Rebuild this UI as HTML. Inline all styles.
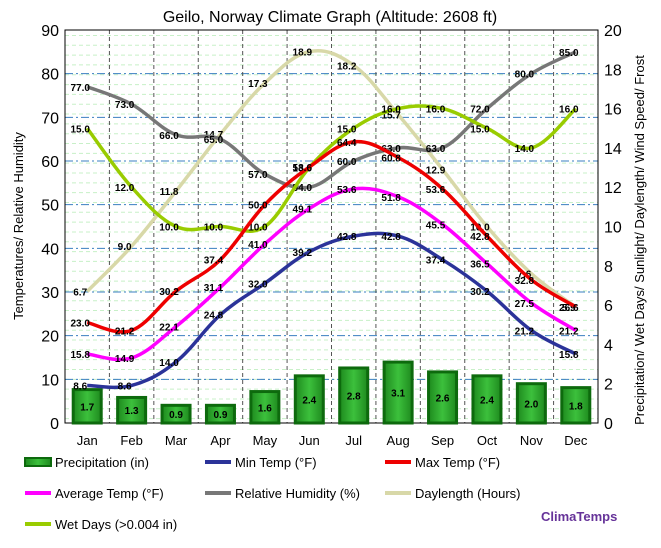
<!DOCTYPE html>
<html><head><meta charset="utf-8"><style>
body{margin:0;background:#fff;font-family:"Liberation Sans",Arial,sans-serif}
svg text{font-family:"Liberation Sans",Arial,sans-serif}
</style></head><body>
<svg id="c" width="661" height="543" xmlns="http://www.w3.org/2000/svg">
<defs><linearGradient id="bg" x1="0" x2="1" y1="0" y2="0"><stop offset="0" stop-color="#1e8a1e"/><stop offset="0.5" stop-color="#3cc03c"/><stop offset="1" stop-color="#1e8a1e"/></linearGradient></defs>
<rect width="661" height="543" fill="#fff"/>
<text x="330" y="22" text-anchor="middle" font-size="16">Geilo, Norway Climate Graph (Altitude: 2608 ft)</text>
<g id="grid"></g><g id="axes"></g><g id="marks"></g><g id="legend"></g>
<text x="541" y="521" font-size="13" font-weight="bold" fill="#663399">ClimaTemps</text>
</svg>
<script>
const months=["Jan","Feb","Mar","Apr","May","Jun","Jul","Aug","Sep","Oct","Nov","Dec"];
const precip=[1.7,1.3,0.9,0.9,1.6,2.4,2.8,3.1,2.6,2.4,2.0,1.8];
const minTemp=[8.6,8.6,14.0,24.8,32.0,39.2,42.8,42.8,37.4,30.2,21.2,15.8];
const maxTemp=[23.0,21.2,30.2,37.4,50.0,58.6,64.4,60.8,53.6,42.8,32.8,26.6];
const avgTemp=[15.8,14.9,22.1,31.1,41.0,49.1,53.6,51.8,45.5,36.5,27.5,21.2];
const humidity=[77,73,66,65,57,54,60,63,63,72,80,85];
const daylight=[6.7,9.0,11.8,14.7,17.3,18.9,18.2,15.7,12.9,10.0,7.6,5.9];
const wetDays=[15,12,10,10,10,13.0,15,16,16,15,14,16];
const leftTicks=[0,10,20,30,40,50,60,70,80,90];
const rightTicks=[0,2,4,6,8,10,12,14,16,18,20];
const NS="http://www.w3.org/2000/svg";
const X0=65,X1=598,Y0=423,Y1=30,bw=(X1-X0)/12;
const xc=i=>X0+bw*(i+0.5);
const yl=v=>Y0-(v/90)*(Y0-Y1);
const yr=v=>Y0-(v/20)*(Y0-Y1);
function mk(p,t,a){const e=document.createElementNS(NS,t);for(const k in a)e.setAttribute(k,a[k]);p.appendChild(e);return e;}
const grid=document.getElementById('grid'),axes=document.getElementById('axes'),marks=document.getElementById('marks'),leg=document.getElementById('legend');
for(let v=1;v<90;v+=2.25){mk(grid,'line',{x1:X0,x2:X1,y1:yl(v),y2:yl(v),stroke:'#c8f0c8','stroke-dasharray':'4,3'});}
leftTicks.forEach(v=>{if(v>0&&v<90){const l=mk(grid,'line',{x1:X0,x2:X1,y1:yl(v),y2:yl(v),stroke:'#3a7fc0','stroke-dasharray':'8,3,2,3'});}});
for(let i=1;i<12;i++){mk(grid,'line',{x1:X0+bw*i,x2:X0+bw*i,y1:Y1,y2:Y0,stroke:'#555','stroke-dasharray':'4,3'});}
mk(axes,'rect',{x:X0,y:Y1,width:X1-X0,height:Y0-Y1,fill:'none',stroke:'#000'});
leftTicks.forEach(v=>{const t=mk(axes,'text',{x:X0-6,y:yl(v)+6,'text-anchor':'end','font-size':16});t.textContent=v;});
rightTicks.forEach(v=>{const t=mk(axes,'text',{x:X1+6,y:yr(v)+6,'font-size':16});t.textContent=v;});
months.forEach((m,i)=>{const t=mk(axes,'text',{x:xc(i),y:445,'text-anchor':'middle','font-size':13});t.textContent=m;});
let t=mk(axes,'text',{transform:'translate(23,226) rotate(-90)','text-anchor':'middle','font-size':13});t.textContent='Temperatures/ Relative Humidity';
t=mk(axes,'text',{transform:'translate(644,240) rotate(-90)','text-anchor':'middle','font-size':13});t.textContent='Precipitation/ Wet Days/ Sunlight/ Daylength/ Wind Speed/ Frost';
precip.forEach((v,i)=>{const r=mk(marks,'rect',{x:xc(i)-14,y:yr(v),width:28,height:Y0-yr(v),fill:'url(#bg)',stroke:'#0d6a0d','stroke-width':3});
const tx=mk(marks,'text',{x:xc(i),y:Y0-(Y0-yr(v))/2+4,'text-anchor':'middle','font-size':10,'font-weight':'bold'});tx.textContent=v.toFixed(1);});
function smooth(pts){let d='M'+pts[0][0]+','+pts[0][1];for(let i=0;i<pts.length-1;i++){const p0=pts[i-1]||pts[i],p1=pts[i],p2=pts[i+1],p3=pts[i+2]||p2;const k=0.18;
d+='C'+(p1[0]+(p2[0]-p0[0])*k)+','+(p1[1]+(p2[1]-p0[1])*k)+' '+(p2[0]-(p3[0]-p1[0])*k)+','+(p2[1]-(p3[1]-p1[1])*k)+' '+p2[0]+','+p2[1];}return d;}
function series(arr,sc,col,name){const p=mk(marks,'path',{d:smooth(arr.map((v,i)=>[xc(i),sc(v)])),fill:'none',stroke:col,'stroke-width':3.5,'stroke-linejoin':'round'});
arr.forEach((v,i)=>{const tx=mk(marks,'text',{x:xc(i)-7,y:sc(v)+4,'text-anchor':'middle','font-size':10,'font-weight':'bold'});tx.textContent=v.toFixed(1);});}
series(daylight,yr,'#d8d8a8','daylength');
series(humidity,yl,'#777777','humidity');
series(wetDays,yr,'#99cc00','wet-days');
series(minTemp,yl,'#2b3399','min-temp');
series(maxTemp,yl,'#ee0000','max-temp');
series(avgTemp,yl,'#ff00ff','avg-temp');
const legs=[["Precipitation (in)",'bar','#33bb33',25,462],["Min Temp (°F)",'#2b3399',0,205,462],["Max Temp (°F)",'#ee0000',0,385,462],["Average Temp (°F)",'#ff00ff',0,25,493],["Relative Humidity (%)",'#777777',0,205,493],["Daylength (Hours)",'#d8d8a8',0,385,493],["Wet Days (>0.004 in)",'#99cc00',0,25,524]];
legs.forEach(l=>{let x=l[3],y=l[4];if(l[1]==='bar'){mk(leg,'rect',{x:x,y:y-4,width:26,height:8,fill:'url(#bg)',stroke:'#0d6a0d','stroke-width':2});}else{mk(leg,'line',{x1:x,x2:x+26,y1:y,y2:y,stroke:l[1],'stroke-width':4});}
const tx=mk(leg,'text',{x:x+30,y:y+5,'font-size':13});tx.textContent=l[0];});
</script>
</body></html>
